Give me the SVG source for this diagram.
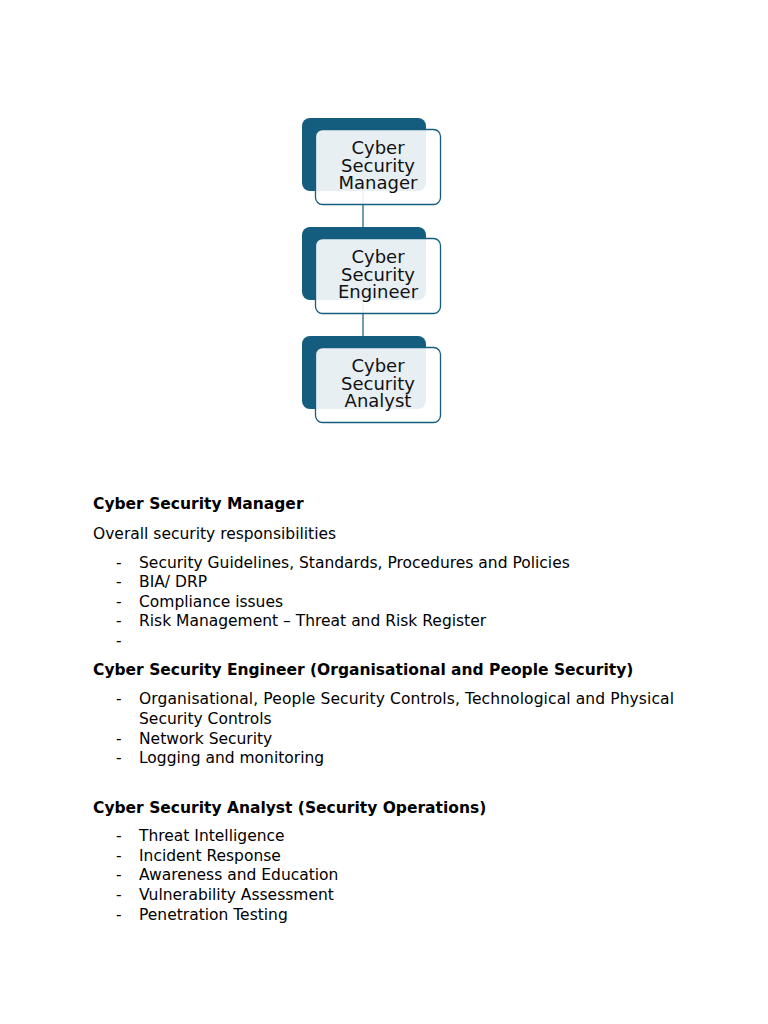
<svg xmlns="http://www.w3.org/2000/svg" width="768" height="1024" viewBox="0 0 768 1024">
<style>
.back{fill:#155d7e}
.front{fill:#ffffff;fill-opacity:0.9;stroke:#155d7e;stroke-width:1.3}
.nt{font-family:"DejaVu Sans",sans-serif;font-size:18px;fill:#111;text-anchor:middle}
.t{font-family:"DejaVu Sans",sans-serif;font-size:15.5px;fill:#000}
.b{font-weight:bold}
.conn{stroke:#155d7e;stroke-width:1.2;fill:none}
</style>
<rect width="768" height="1024" fill="#fff"/>
<g id="connectors">
<line class="conn" x1="363" y1="190" x2="363" y2="228"/>
<line class="conn" x1="363" y1="300" x2="363" y2="337"/>
</g>
<g id="node-manager">
<rect class="back" x="302" y="118" width="124" height="73" rx="8"/>
<rect class="front" x="315.5" y="129.5" width="125" height="75" rx="7"/>
<text class="nt" x="378" y="154">Cyber</text>
<text class="nt" x="378" y="171.5">Security</text>
<text class="nt" x="378" y="189">Manager</text>
</g>
<g id="node-engineer">
<rect class="back" x="302" y="227" width="124" height="73" rx="8"/>
<rect class="front" x="315.5" y="238.5" width="125" height="75" rx="7"/>
<text class="nt" x="378" y="263">Cyber</text>
<text class="nt" x="378" y="280.5">Security</text>
<text class="nt" x="378" y="298">Engineer</text>
</g>
<g id="node-analyst">
<rect class="back" x="302" y="336" width="124" height="73" rx="8"/>
<rect class="front" x="315.5" y="347.5" width="125" height="75" rx="7"/>
<text class="nt" x="378" y="372">Cyber</text>
<text class="nt" x="378" y="389.5">Security</text>
<text class="nt" x="378" y="407">Analyst</text>
</g>
<g id="text">
<text class="t b" x="93" y="509">Cyber Security Manager</text>
<text class="t" x="93" y="539">Overall security responsibilities</text>
<text class="t" x="116" y="568">-</text><text class="t" x="139" y="568">Security Guidelines, Standards, Procedures and Policies</text>
<text class="t" x="116" y="587">-</text><text class="t" x="139" y="587">BIA/ DRP</text>
<text class="t" x="116" y="607">-</text><text class="t" x="139" y="607">Compliance issues</text>
<text class="t" x="116" y="626">-</text><text class="t" x="139" y="626">Risk Management – Threat and Risk Register</text>
<text class="t" x="116" y="646">-</text>
<text class="t b" x="93" y="675">Cyber Security Engineer (Organisational and People Security)</text>
<text class="t" x="116" y="704">-</text><text class="t" x="139" y="704" textLength="535" lengthAdjust="spacing">Organisational, People Security Controls, Technological and Physical</text>
<text class="t" x="139" y="724">Security Controls</text>
<text class="t" x="116" y="744">-</text><text class="t" x="139" y="744">Network Security</text>
<text class="t" x="116" y="763">-</text><text class="t" x="139" y="763">Logging and monitoring</text>
<text class="t b" x="93" y="813">Cyber Security Analyst (Security Operations)</text>
<text class="t" x="116" y="841">-</text><text class="t" x="139" y="841">Threat Intelligence</text>
<text class="t" x="116" y="861">-</text><text class="t" x="139" y="861">Incident Response</text>
<text class="t" x="116" y="880">-</text><text class="t" x="139" y="880">Awareness and Education</text>
<text class="t" x="116" y="900">-</text><text class="t" x="139" y="900">Vulnerability Assessment</text>
<text class="t" x="116" y="920">-</text><text class="t" x="139" y="920">Penetration Testing</text>
</g>
</svg>
